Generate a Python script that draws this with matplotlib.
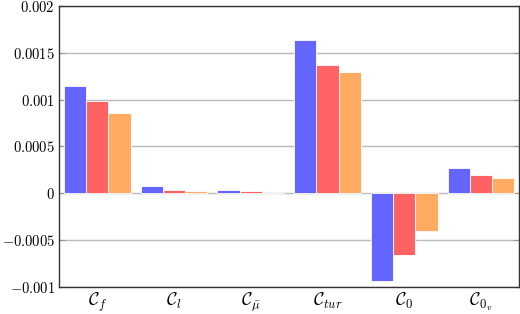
import numpy as np
import matplotlib
matplotlib.use('Agg')
import matplotlib.pyplot as plt

plt.rcParams['mathtext.fontset'] = 'cm'

labels = [r'$\mathcal{C}_f$', r'$\mathcal{C}_l$', r'$\mathcal{C}_{\bar{\mu}}$',
          r'$\mathcal{C}_{tur}$', r'$\mathcal{C}_0$', r'$\mathcal{C}_{0_v}$']
blue = [0.001147, 0.000075, 0.000032, 0.00164, -0.00094, 0.000271]
red = [0.000989, 0.000035, 0.00002, 0.001368, -0.000657, 0.000196]
orange = [0.000854, 0.000025, 0.000007, 0.001293, -0.000404, 0.000168]
yticks = [-0.001, -0.0005, 0, 0.0005, 0.001, 0.0015, 0.002]
yticklabels = [r'$-0.001$', r'$-0.0005$', r'$0$', r'$0.0005$', r'$0.001$', r'$0.0015$', r'$0.002$']

fig = plt.figure(figsize=(5.2, 3.14), dpi=100)
ax = fig.add_axes([0.1135, 0.086, 0.885, 0.895])

x = np.arange(len(labels))
w = 0.29
for off, vals, col in [(-w, blue, '#6464ff'), (0, red, '#ff6262'), (w, orange, '#ffac62')]:
    ax.bar(x + off, vals, w, color=col, edgecolor='white', linewidth=0.6, zorder=3)

ax.set_xlim(-0.5, 5.5)
ax.set_ylim(-0.001, 0.002)
ax.set_yticks(yticks)
ax.set_yticklabels(yticklabels, fontsize=10.5)
ax.set_xticks(x)
ax.set_xticklabels(labels, fontsize=13)
ax.tick_params(axis='x', length=0, pad=3)
ax.tick_params(axis='y', length=4, color='#999999', direction='in', right=True, pad=3)
ax.yaxis.grid(True, color='#bbbbbb', linewidth=1, zorder=0)
for s in ax.spines.values():
    s.set_color('#333333')
    s.set_linewidth(1)

plt.savefig('out.png', dpi=100)
